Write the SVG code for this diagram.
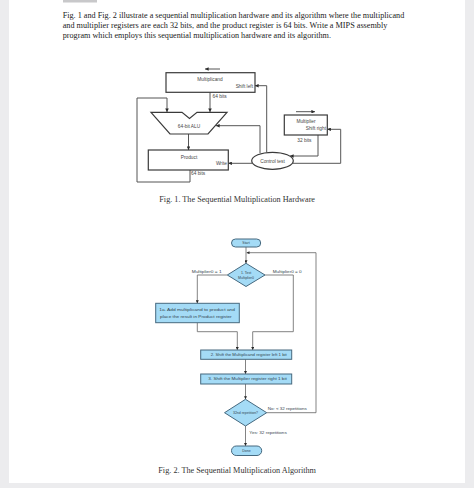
<svg xmlns="http://www.w3.org/2000/svg" width="474" height="488" viewBox="0 0 474 488">
<style>
.bg{fill:#ececee}
.page{fill:#ffffff}
.para{font-family:"Liberation Serif",serif;font-size:8.6px;fill:#222}
.cap{font-family:"Liberation Serif",serif;font-size:8.6px;fill:#333}
.hw{font-family:"Liberation Sans",Arial,sans-serif;font-size:4.8px;fill:#444}
.box{fill:#fff;stroke:#3a3a3a;stroke-width:1.2}
.wire{fill:none;stroke:#555;stroke-width:1}
.fc{fill:#a4dbf6;stroke:#46697f;stroke-width:1}
.fct{font-family:"Liberation Sans",Arial,sans-serif;font-size:3.5px;fill:#34454f}
.fcl{fill:none;stroke:#6d6d6d;stroke-width:0.85}
</style>
<defs>
<marker id="ah" viewBox="0 0 10 10" refX="10" refY="5" markerWidth="3.6" markerHeight="3.6" markerUnits="userSpaceOnUse" orient="auto">
<path d="M0,0 L10,5 L0,10 z" fill="#2a2a2a"/>
</marker>
<marker id="ahs" viewBox="0 0 10 10" refX="10" refY="5" markerWidth="3" markerHeight="3" markerUnits="userSpaceOnUse" orient="auto">
<path d="M0,0 L10,5 L0,10 z" fill="#2a2a2a"/>
</marker>
</defs>
<rect class="bg" x="0" y="0" width="474" height="488"/>
<rect class="page" x="9" y="0" width="456" height="483"/>
<rect x="63" y="0" width="34" height="2.5" fill="#c8c8ca"/>

<g id="intro">
<text class="para" x="62.7" y="17.5" textLength="341.6" lengthAdjust="spacingAndGlyphs">Fig. 1 and Fig. 2 illustrate a sequential multiplication hardware and its algorithm where the multiplicand</text>
<text class="para" x="62.7" y="27.5" textLength="324.6" lengthAdjust="spacingAndGlyphs">and multiplier registers are each 32 bits, and the product register is 64 bits. Write a MIPS assembly</text>
<text class="para" x="62.7" y="37.5" textLength="268.3" lengthAdjust="spacingAndGlyphs">program which employs this sequential multiplication hardware and its algorithm.</text>
</g>

<g id="hw-connectors">
<line class="wire" x1="220" y1="69" x2="205" y2="69" marker-end="url(#ah)"/>
<line class="wire" x1="296" y1="111.7" x2="315" y2="111.7" marker-end="url(#ah)"/>
<line class="wire" x1="210" y1="92.3" x2="210" y2="112" marker-end="url(#ah)"/>
<path class="wire" d="M190,170 V182 H137 V98 H167 V112" marker-end="url(#ah)"/>
<line class="wire" x1="188.5" y1="134" x2="188.5" y2="150" marker-end="url(#ah)"/>
<line class="wire" x1="252" y1="163.3" x2="228.3" y2="163.3" marker-end="url(#ah)"/>
<path class="wire" d="M260,153 V125.7 H216" marker-end="url(#ah)"/>
<path class="wire" d="M266.7,152.5 V85.7 H255" marker-end="url(#ah)"/>
<path class="wire" d="M318,135 V156 H290" marker-end="url(#ah)"/>
<path class="wire" d="M292.5,163.3 H340.7 V129.3 H327.3" marker-end="url(#ah)"/>
</g>

<g id="multiplicand">
<rect class="box" x="166" y="72.7" width="89" height="19.6"/>
<text class="hw" x="210" y="81" text-anchor="middle">Multiplicand</text>
<text class="hw" x="253" y="87.5" text-anchor="end">Shift left</text>
<text class="hw" x="212.5" y="98">64 bits</text>
</g>

<g id="alu">
<path class="box" d="M151,112.3 H182 L189.5,118.5 L197,112.3 H227 L208,134 H170 Z"/>
<text class="hw" x="189" y="127.5" text-anchor="middle">64-bit ALU</text>
</g>

<g id="product">
<rect class="box" x="148.3" y="150" width="80" height="20"/>
<text class="hw" x="189" y="158.5" text-anchor="middle">Product</text>
<text class="hw" x="227" y="165" text-anchor="end">Write</text>
<text class="hw" x="191" y="175">64 bits</text>
</g>

<g id="multiplier">
<rect class="box" x="284.3" y="115" width="43" height="20"/>
<text class="hw" x="306" y="123" text-anchor="middle">Multiplier</text>
<text class="hw" x="326" y="130" text-anchor="end">Shift right</text>
<text class="hw" x="297.3" y="142.3">32 bits</text>
</g>

<g id="control">
<ellipse class="box" cx="272.5" cy="160.8" rx="20.8" ry="8.5"/>
<text class="hw" x="272.5" y="162.6" text-anchor="middle">Control test</text>
</g>

<g id="fig1-caption">
<text class="cap" x="159.3" y="202" textLength="155.7" lengthAdjust="spacingAndGlyphs">Fig. 1. The Sequential Multiplication Hardware</text>
</g>

<g id="fc-connectors">
<line class="fcl" x1="246" y1="247" x2="246" y2="263.3" marker-end="url(#ahs)"/>
<path class="fcl" d="M266.5,412.7 H316 V252.7 H246.5" marker-end="url(#ahs)"/>
<path class="fcl" d="M227.3,275 H197.3 V303.3" marker-end="url(#ahs)"/>
<path class="fcl" d="M264.7,275 H293.3 V331.7 H252.7 V350" marker-end="url(#ahs)"/>
<path class="fcl" d="M197.3,322.7 V331.7 H237.3 V350" marker-end="url(#ahs)"/>
<line class="fcl" x1="245.5" y1="359.3" x2="245.5" y2="374" marker-end="url(#ahs)"/>
<line class="fcl" x1="245.5" y1="384" x2="245.5" y2="399.3" marker-end="url(#ahs)"/>
<line class="fcl" x1="245.5" y1="426" x2="245.5" y2="446" marker-end="url(#ahs)"/>
<text class="fct" x="191.7" y="272.5" textLength="30" lengthAdjust="spacingAndGlyphs">Multiplier0 = 1</text>
<text class="fct" x="272.7" y="272.5" textLength="29" lengthAdjust="spacingAndGlyphs">Multiplier0 = 0</text>
<text class="fct" x="267.7" y="410" textLength="39" lengthAdjust="spacingAndGlyphs">No: &lt; 32 repetitions</text>
<text class="fct" x="249.3" y="434.2" textLength="37.4" lengthAdjust="spacingAndGlyphs">Yes: 32 repetitions</text>
</g>

<g id="start">
<rect class="fc" x="231.5" y="239" width="29.2" height="8" rx="4"/>
<text class="fct" x="246" y="244.2" text-anchor="middle">Start</text>
</g>

<g id="test">
<polygon class="fc" points="246,263.3 265,275 246,286.5 227.3,275"/>
<text class="fct" x="246" y="274" text-anchor="middle">1. Test</text>
<text class="fct" x="246" y="279" text-anchor="middle">Multiplier0</text>
</g>

<g id="step1a">
<rect class="fc" x="155.7" y="303.3" width="83.6" height="19.4"/>
<text class="fct" x="159.3" y="311" textLength="75.7" lengthAdjust="spacingAndGlyphs">1a.  Add multiplicand to product and</text>
<text class="fct" x="160" y="317.5" textLength="71.7" lengthAdjust="spacingAndGlyphs">place the result in Product register</text>
</g>

<g id="step2">
<rect class="fc" x="200.7" y="350" width="91" height="9.3"/>
<text class="fct" x="210.7" y="355.9" textLength="76" lengthAdjust="spacingAndGlyphs">2.  Shift the Multiplicand register left 1 bit</text>
</g>

<g id="step3">
<rect class="fc" x="200.7" y="374" width="91" height="10"/>
<text class="fct" x="208.3" y="380.2" textLength="78.4" lengthAdjust="spacingAndGlyphs">3.  Shift the Multiplier register right 1 bit</text>
</g>

<g id="repeat">
<polygon class="fc" points="245.5,399.3 266.7,412.7 245.5,426 224.5,412.7"/>
<text class="fct" x="245.5" y="414" text-anchor="middle">32nd repetition?</text>
</g>

<g id="done">
<rect class="fc" x="231.5" y="446" width="30.2" height="9.5" rx="4.7"/>
<text class="fct" x="246.5" y="452" text-anchor="middle">Done</text>
</g>

<g id="fig2-caption">
<text class="cap" x="158.3" y="472.8" textLength="157.7" lengthAdjust="spacingAndGlyphs">Fig. 2. The Sequential Multiplication Algorithm</text>
</g>
</svg>
